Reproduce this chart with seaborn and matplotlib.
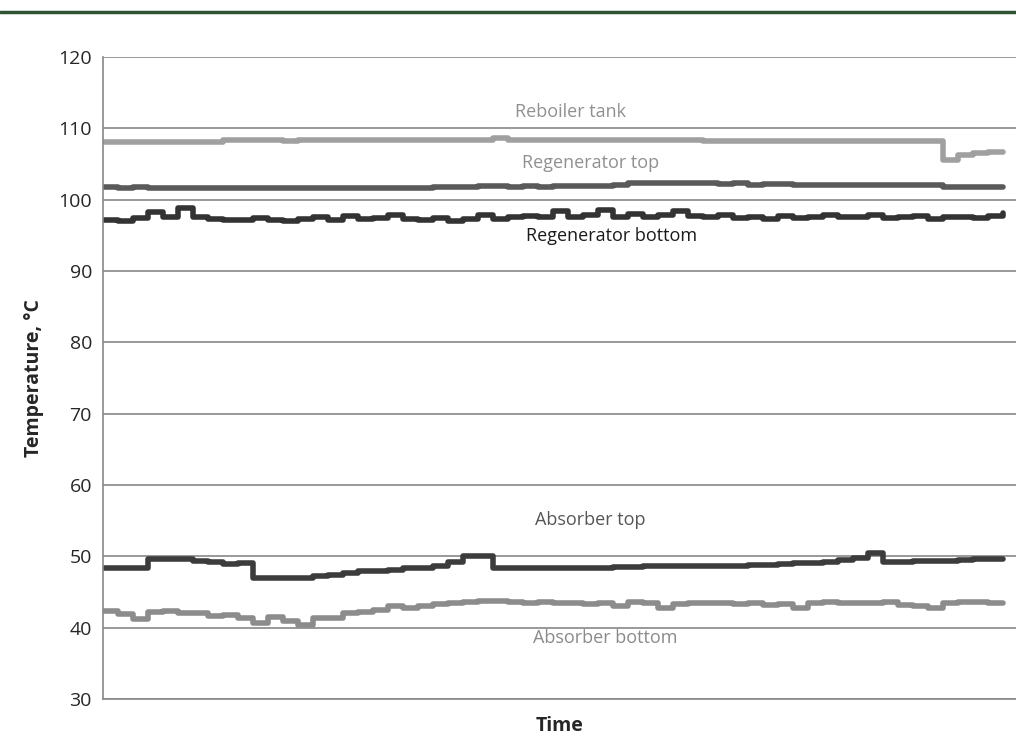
import matplotlib
matplotlib.use("Agg")
import matplotlib.pyplot as plt
import seaborn as sns
import pandas as pd
from matplotlib.lines import Line2D

sns.set_theme(style="white")
plt.rcParams['font.family'] = ['Open Sans', 'DejaVu Sans']

t = list(range(61))
reboiler = [108.1]*8 + [108.4]*4 + [108.2] + [108.4]*13 + [108.7] + [108.4]*13 + [108.2]*16 + [105.6, 106.3, 106.6, 106.7, 106.7]
regen_top = [101.8,101.7,101.8,101.7,101.7,101.7,101.7,101.7,101.7,101.7,
             101.7,101.7,101.7,101.7,101.7,101.7,101.7,101.7,101.7,101.7,
             101.7,101.7,101.8,101.8,101.8,101.9,101.9,101.8,101.9,101.8,
             101.9,101.9,101.9,101.9,102.0,102.3,102.3,102.4,102.4,102.3,
             102.4,102.2,102.3,102.1,102.2,102.2,102.1,102.1,102.1,102.1,
             102.0,102.1,102.0,102.0,102.0,102.0,101.8,101.8,101.8,101.8,101.8]
regen_bottom = [97.1,97.0,97.4,98.2,97.5,98.8,97.6,97.3,97.1,97.1,
                97.4,97.2,97.0,97.3,97.6,97.2,97.7,97.3,97.4,97.8,
                97.3,97.2,97.4,97.0,97.3,97.9,97.3,97.5,97.7,97.5,
                98.4,97.6,97.8,98.6,97.6,98.0,97.5,97.8,98.4,97.7,
                97.6,97.9,97.4,97.6,97.3,97.7,97.4,97.5,97.8,97.6,
                97.5,97.9,97.4,97.5,97.7,97.3,97.6,97.5,97.4,97.7,98.1]
abs_top = [48.3,48.3,48.3,49.6,49.6,49.6,49.3,49.2,48.9,49.0,
           47.0,47.0,47.0,47.0,47.2,47.4,47.6,47.9,48.0,48.1,
           48.3,48.4,48.6,49.2,50.0,50.1,48.4,48.4,48.4,48.3,
           48.3,48.4,48.4,48.4,48.5,48.5,48.6,48.6,48.6,48.6,
           48.7,48.7,48.7,48.8,48.8,48.9,49.0,49.1,49.2,49.5,
           49.8,50.5,49.2,49.2,49.3,49.3,49.3,49.5,49.6,49.6,49.6]
abs_bottom = [42.3,41.9,41.2,42.2,42.3,42.0,42.1,41.7,41.8,41.3,
              40.6,41.5,41.0,40.4,41.4,41.4,42.1,42.2,42.5,43.0,
              42.7,43.1,43.3,43.5,43.6,43.7,43.8,43.6,43.5,43.6,
              43.4,43.5,43.3,43.5,43.0,43.6,43.4,42.7,43.3,43.4,
              43.4,43.5,43.3,43.4,43.2,43.3,42.8,43.5,43.6,43.4,
              43.5,43.5,43.6,43.2,43.1,42.7,43.5,43.6,43.6,43.5,43.4]

series = {"Reboiler tank": (reboiler, "#a0a0a0"),
          "Regenerator top": (regen_top, "#5a5a5a"),
          "Regenerator bottom": (regen_bottom, "#333333"),
          "Absorber top": (abs_top, "#3c3c3c"),
          "Absorber bottom": (abs_bottom, "#8c8c8c")}

fig = plt.figure(figsize=(10.16, 7.47), dpi=100)
ax = fig.add_axes([0.1014, 0.0643, 0.8986, 0.8594])
for name, (vals, col) in series.items():
    df = pd.DataFrame({"t": t, "v": vals})
    sns.lineplot(data=df, x="t", y="v", ax=ax, color=col, linewidth=4, drawstyle="steps-post")

ax.set_xlim(0, 60.87)
ax.set_ylim(30, 120)
ax.set_yticks(range(30, 121, 10))
ax.yaxis.grid(True, color="#888888", linewidth=1.2)
ax.set_xticks([])
ax.tick_params(axis='y', labelsize=14, length=0, pad=8)
for s in ["top", "right"]:
    ax.spines[s].set_visible(False)
for s in ["left", "bottom"]:
    ax.spines[s].set_color("#888888")
    ax.spines[s].set_linewidth(1.2)
ax.set_ylabel("Temperature, °C", fontsize=14, fontweight="bold", labelpad=10)
ax.set_xlabel("Time", fontsize=14, fontweight="bold", labelpad=12)

labels = [("Reboiler tank", 31.2, 112.3, "#909090"),
          ("Regenerator top", 32.5, 105.2, "#909090"),
          ("Regenerator bottom", 33.9, 94.9, "#1a1a1a"),
          ("Absorber top", 32.5, 55.1, "#555555"),
          ("Absorber bottom", 33.5, 38.6, "#8a8a8a")]
for txt, x, y, c in labels:
    ax.text(x, y, txt, color=c, fontsize=13, ha="center", va="center")

fig.add_artist(Line2D([0, 1], [0.984, 0.984], color="#2e5232", linewidth=2.5))
fig.savefig("out.png", dpi=100)
